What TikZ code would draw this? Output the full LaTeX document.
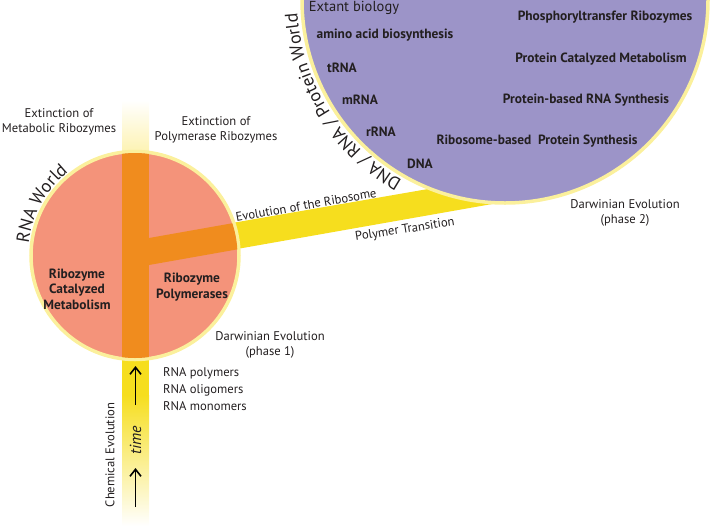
\documentclass[tikz,border=0pt]{standalone}
\usepackage{fontspec}
\setmainfont{PT Sans}
\usetikzlibrary{decorations.text,arrows.meta}
\definecolor{rim}{HTML}{FBF09C}
\definecolor{salmon}{HTML}{F4937A}
\definecolor{bandorange}{HTML}{F08C1E}
\definecolor{bandyellow}{HTML}{F6DE1E}
\definecolor{purple}{HTML}{9C94C8}
\definecolor{paleband}{HTML}{FDF2AE}
\definecolor{ink}{HTML}{231F20}
\tikzset{
  lab/.style={text=ink,font=\fontsize{12.6}{15.5}\selectfont,align=center,inner sep=0pt},
  blab/.style={lab,font=\fontsize{13.4}{15.5}\selectfont\bfseries},
  world/.style={decorate,decoration={text along path,text align=center,text={|\fontsize{18}{19}\selectfont\color{ink}|#1}}},
  timearrow/.style={-{Straight Barb[length=7pt,width=11pt]},line width=1.6pt,draw=black},
}
\begin{document}
\begin{tikzpicture}[x=1pt,y=1pt]
\useasboundingbox (0,0) rectangle (711,-528);
% faded ends of the time band
\shade[top color=white,bottom color=paleband] (122,-100) rectangle (149,-155);
\shade[top color=bandyellow,bottom color=white] (122,-395) rectangle (149,-526);
\fill[bandyellow] (122,-350) rectangle (149,-396);
% yellow transition band, runs under the purple disc
\fill[bandyellow] (232,-223) -- (480,-180) -- (495,-203.5) -- (237,-249) -- cycle;
% RNA world disc
\fill[salmon,draw=rim,line width=3.5pt] (135,-255.5) circle (104);
\begin{scope}
  \clip (135,-255.5) circle (102.5);
  \fill[bandorange] (122,-140) rectangle (149,-370);
  \fill[bandorange] (140,-240) -- (149,-238) -- (245,-221) -- (245,-248) -- (149,-265) -- (140,-266) -- cycle;
\end{scope}
% protein world disc
\fill[purple,draw=rim,line width=3.5pt] (505,0) circle (203);
% curved titles
\path[world={RNA World}] (135,-255.5) ++(174:107) arc (174:128:107);
\path[world={DNA / RNA / Protein World}] (505,0) ++(241:208) arc (241:183:208);
% time arrows
\coordinate (a1s) at (135.5,-405);
\coordinate (a1e) at (135.5,-366);
\coordinate (a2s) at (135.5,-507);
\coordinate (a2e) at (135.5,-468);
\draw[timearrow] (a1s) -- (a1e);
\draw[timearrow] (a2s) -- (a2e);
\node[lab,rotate=90,font=\fontsize{16}{16}\selectfont\itshape] (time) at (135.5,-440) {time};
\node[lab,rotate=90] (chem) at (110,-455) {Chemical Evolution};
% left side labels
\node[lab] (extmet) at (59,-122) {Extinction of\\Metabolic Ribozymes};
\node[lab] (extpol) at (216,-130) {Extinction of\\Polymerase Ribozymes};
\node[blab] (catal) at (77,-289) {Ribozyme\\Catalyzed\\Metabolism};
\node[blab] (polym) at (192,-287) {Ribozyme\\Polymerases};
\node[lab] (dar1) at (270,-345) {Darwinian Evolution\\(phase 1)};
\node[lab,anchor=west] (rp) at (163,-373) {RNA polymers};
\node[lab,anchor=west] (ro) at (163,-390) {RNA oligomers};
\node[lab,anchor=west] (rm) at (163,-406) {RNA monomers};
\node[lab,rotate=10] (evo) at (306,-205) {Evolution of the Ribosome};
\node[lab,rotate=9] (trans) at (405,-230) {Polymer Transition};
\node[lab] (dar2) at (625,-213) {Darwinian Evolution\\(phase 2)};
% inside the purple disc
\node[lab,font=\fontsize{14.5}{15}\selectfont] (extant) at (354,-8) {Extant biology};
\node[blab] (amino) at (385,-35) {amino acid biosynthesis};
\node[blab] (trna) at (342,-68) {tRNA};
\node[blab] (mrna) at (360,-100) {mRNA};
\node[blab] (rrna) at (381,-132) {rRNA};
\node[blab] (dna) at (420,-164) {DNA};
\node[blab] (phos) at (605,-17) {Phosphoryltransfer Ribozymes};
\node[blab] (prot) at (601,-59) {Protein Catalyzed Metabolism};
\node[blab] (prna) at (586,-100) {Protein-based RNA Synthesis};
\node[blab] (ribo) at (537,-141) {Ribosome-based\ \ Protein Synthesis};
\end{tikzpicture}
\end{document}
